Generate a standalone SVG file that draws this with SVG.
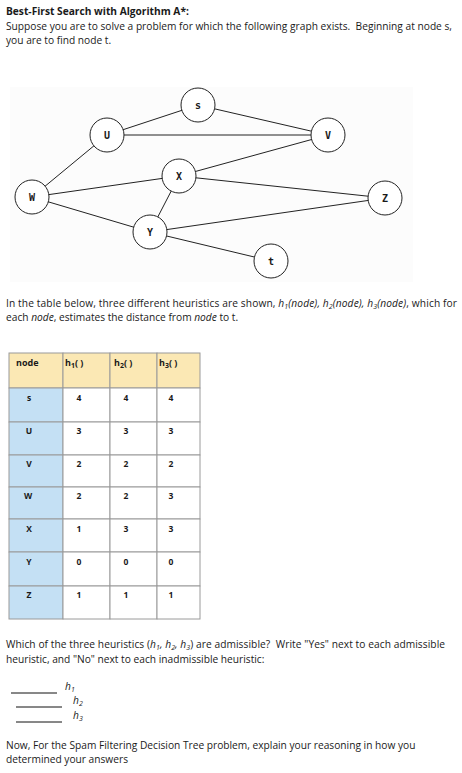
<svg xmlns="http://www.w3.org/2000/svg" width="462" height="773" viewBox="0 0 462 773">
<style>
text{font-family:"Open Sans","Liberation Sans",sans-serif;fill:#1a1a1a}
.p{font-size:10.2px}
.b{font-weight:bold}
.s{font-size:7px}
.n{font-family:"DejaVu Sans Mono","Liberation Mono",monospace;font-weight:bold;font-size:10px;text-anchor:middle}
.nd circle{fill:#fff;stroke:#222;stroke-width:1}
.edges line{stroke:#222;stroke-width:1}
.t{font-size:8.5px;font-weight:bold;text-anchor:middle}
.th{font-size:9px;font-weight:bold}
.cell{fill:#fff;stroke:#9a9a9a;stroke-width:1}
.hd{fill:#fbe8b4;stroke:#9a9a9a;stroke-width:1}
.nc{fill:#c4e0f4;stroke:#9a9a9a;stroke-width:1}
.bl{stroke:#111;stroke-width:1}
</style>
<rect width="462" height="773" fill="#fff"/>
<text class="p b" x="6" y="15">Best-First Search with Algorithm A*:</text>
<text class="p" x="6" y="30" textLength="446">Suppose you are to solve a problem for which the following graph exists.&#160; Beginning at node s,</text>
<text class="p" x="6" y="44">you are to find node t.</text>

<rect x="10" y="87" width="403" height="195" fill="#fcfcfc"/>
<g class="edges">
<line x1="107" y1="135" x2="198" y2="105"/>
<line x1="198" y1="105" x2="328" y2="135"/>
<line x1="107" y1="135" x2="328" y2="135"/>
<line x1="107" y1="135" x2="32" y2="197"/>
<line x1="328" y1="135" x2="179" y2="176"/>
<line x1="32" y1="197" x2="179" y2="176"/>
<line x1="179" y1="176" x2="385" y2="198"/>
<line x1="32" y1="197" x2="150" y2="232"/>
<line x1="179" y1="176" x2="150" y2="232"/>
<line x1="150" y1="232" x2="385" y2="198"/>
<line x1="150" y1="232" x2="271" y2="261"/>
</g>
<g id="node-s" class="nd"><circle cx="198" cy="105" r="17"/><text class="n" x="198" y="109">s</text></g>
<g id="node-U" class="nd"><circle cx="107" cy="135" r="17"/><text class="n" x="107" y="139">U</text></g>
<g id="node-V" class="nd"><circle cx="328" cy="135" r="17"/><text class="n" x="328" y="139">V</text></g>
<g id="node-X" class="nd"><circle cx="179" cy="176" r="17"/><text class="n" x="179" y="180">X</text></g>
<g id="node-W" class="nd"><circle cx="32" cy="197" r="17"/><text class="n" x="32" y="201">W</text></g>
<g id="node-Z" class="nd"><circle cx="385" cy="198" r="17"/><text class="n" x="385" y="202">Z</text></g>
<g id="node-Y" class="nd"><circle cx="150" cy="232" r="17"/><text class="n" x="150" y="236">Y</text></g>
<g id="node-t" class="nd"><circle cx="271" cy="261" r="17"/><text class="n" x="271" y="265">t</text></g>

<text class="p" x="6" y="307" textLength="451">In the table below, three different heuristics are shown, <tspan font-style="italic">h<tspan class="s" dy="2">1</tspan><tspan dy="-2">(node), h</tspan><tspan class="s" dy="2">2</tspan><tspan dy="-2">(node), h</tspan><tspan class="s" dy="2">3</tspan><tspan dy="-2">(node)</tspan></tspan>, which for</text>
<text class="p" x="6" y="321">each <tspan font-style="italic">node</tspan>, estimates the distance from <tspan font-style="italic">node</tspan> to t.</text>

<g id="table">
<rect class="hd" x="9" y="353" width="54" height="35"/>
<rect class="hd" x="63" y="353" width="47" height="35"/>
<rect class="hd" x="110" y="353" width="47" height="35"/>
<rect class="hd" x="157" y="353" width="43" height="35"/>
<text class="th" x="16" y="366">node</text>
<text class="th" x="65" y="366">h<tspan class="s" dy="2">1</tspan><tspan dy="-2">( )</tspan></text>
<text class="th" x="114" y="366">h<tspan class="s" dy="2">2</tspan><tspan dy="-2">( )</tspan></text>
<text class="th" x="159" y="366">h<tspan class="s" dy="2">3</tspan><tspan dy="-2">( )</tspan></text>

<rect class="nc" x="9" y="388" width="54" height="34"/><rect class="cell" x="63" y="388" width="47" height="34"/><rect class="cell" x="110" y="388" width="47" height="34"/><rect class="cell" x="157" y="388" width="43" height="34"/>
<rect class="nc" x="9" y="422" width="54" height="33"/><rect class="cell" x="63" y="422" width="47" height="33"/><rect class="cell" x="110" y="422" width="47" height="33"/><rect class="cell" x="157" y="422" width="43" height="33"/>
<rect class="nc" x="9" y="455" width="54" height="32"/><rect class="cell" x="63" y="455" width="47" height="32"/><rect class="cell" x="110" y="455" width="47" height="32"/><rect class="cell" x="157" y="455" width="43" height="32"/>
<rect class="nc" x="9" y="487" width="54" height="32"/><rect class="cell" x="63" y="487" width="47" height="32"/><rect class="cell" x="110" y="487" width="47" height="32"/><rect class="cell" x="157" y="487" width="43" height="32"/>
<rect class="nc" x="9" y="519" width="54" height="33"/><rect class="cell" x="63" y="519" width="47" height="33"/><rect class="cell" x="110" y="519" width="47" height="33"/><rect class="cell" x="157" y="519" width="43" height="33"/>
<rect class="nc" x="9" y="552" width="54" height="34"/><rect class="cell" x="63" y="552" width="47" height="34"/><rect class="cell" x="110" y="552" width="47" height="34"/><rect class="cell" x="157" y="552" width="43" height="34"/>
<rect class="nc" x="9" y="586" width="54" height="33"/><rect class="cell" x="63" y="586" width="47" height="33"/><rect class="cell" x="110" y="586" width="47" height="33"/><rect class="cell" x="157" y="586" width="43" height="33"/>

<text class="t" x="29" y="401">s</text><text class="t" x="79" y="401">4</text><text class="t" x="126" y="401">4</text><text class="t" x="171" y="401">4</text>
<text class="t" x="29" y="434">U</text><text class="t" x="79" y="434">3</text><text class="t" x="126" y="434">3</text><text class="t" x="171" y="434">3</text>
<text class="t" x="29" y="467">V</text><text class="t" x="79" y="467">2</text><text class="t" x="126" y="467">2</text><text class="t" x="171" y="467">2</text>
<text class="t" x="28" y="499">W</text><text class="t" x="79" y="499">2</text><text class="t" x="126" y="499">2</text><text class="t" x="171" y="499">3</text>
<text class="t" x="29" y="532">X</text><text class="t" x="79" y="532">1</text><text class="t" x="126" y="532">3</text><text class="t" x="171" y="532">3</text>
<text class="t" x="29" y="565">Y</text><text class="t" x="79" y="565">0</text><text class="t" x="126" y="565">0</text><text class="t" x="171" y="565">0</text>
<text class="t" x="29" y="598">Z</text><text class="t" x="79" y="598">1</text><text class="t" x="126" y="598">1</text><text class="t" x="171" y="598">1</text>
</g>

<text class="p" x="6" y="648" textLength="439">Which of the three heuristics (<tspan font-style="italic">h<tspan class="s" dy="2">1</tspan><tspan dy="-2">, h</tspan><tspan class="s" dy="2">2</tspan><tspan dy="-2">, h</tspan><tspan class="s" dy="2">3</tspan></tspan><tspan dy="-2">) are admissible?&#160; Write "Yes" next to each admissible</tspan></text>
<text class="p" x="6" y="663">heuristic, and "No" next to each inadmissible heuristic:</text>

<line class="bl" x1="11" y1="693" x2="57" y2="693"/>
<line class="bl" x1="16" y1="707" x2="62" y2="707"/>
<line class="bl" x1="16" y1="722" x2="62" y2="722"/>
<text class="p" x="65" y="690" font-style="italic">h<tspan class="s" dy="2">1</tspan></text>
<text class="p" x="73" y="704" font-style="italic">h<tspan class="s" dy="2">2</tspan></text>
<text class="p" x="73" y="719" font-style="italic">h<tspan class="s" dy="2">3</tspan></text>

<text class="p" x="6" y="749">Now, For the Spam Filtering Decision Tree problem, explain your reasoning in how you</text>
<text class="p" x="6" y="763">determined your answers</text>
</svg>
